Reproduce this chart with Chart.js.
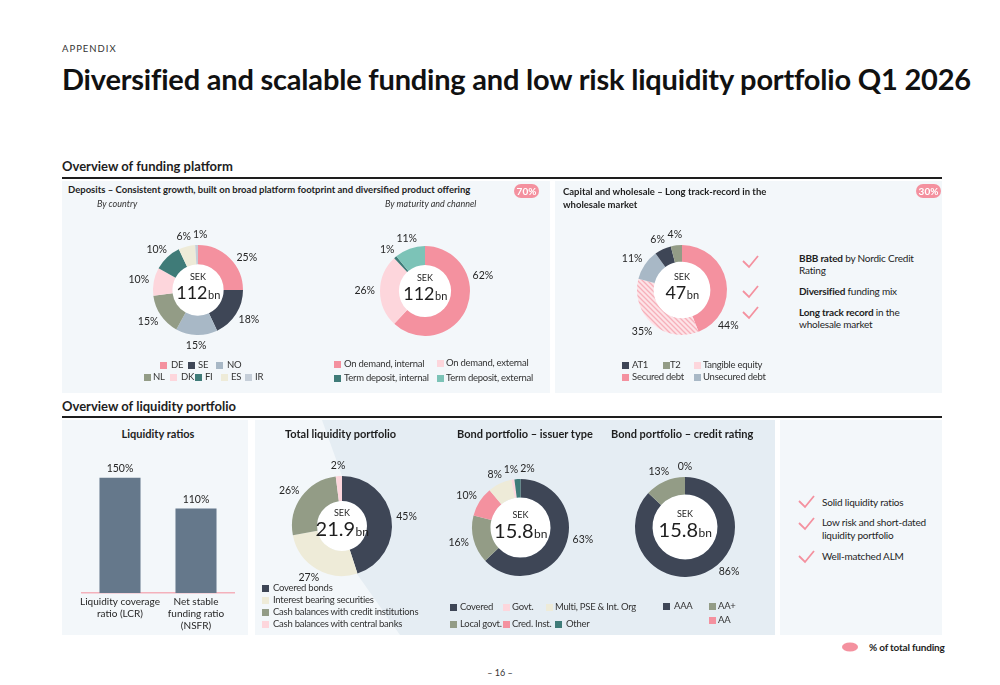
<!DOCTYPE html>
<html>
<head>
<meta charset="utf-8">
<script src="https://cdn.jsdelivr.net/npm/chart.js@4.4.1/dist/chart.umd.min.js"></script>
<style>
body { margin: 0; width: 1000px; height: 685px; background: #fff; font-family: Lato, 'Noto Sans', sans-serif; color: #1e1e1e; position: relative; overflow: hidden; }
.t { position: absolute; white-space: nowrap; }
canvas { position: absolute; }
.sq { position: absolute; width: 7px; height: 7px; }
svg { position: absolute; left: 0; top: 0; }
</style>
</head>
<body>
<svg width="1000" height="685" id="bg">
  <rect x="62" y="181" width="488" height="212" fill="#f3f7fa"/>
  <rect x="555" y="181" width="387" height="212" fill="#f3f7fa"/>
  <rect x="62" y="420" width="186" height="215" fill="#f3f7fa"/>
  <rect x="255" y="420" width="520" height="215" fill="#f3f7fa"/>
  <polygon points="322,420 775,420 775,635 400,635 357,574 342,476" fill="#e5edf3"/>
  <rect x="780" y="420" width="162" height="215" fill="#f3f7fa"/>
  <rect x="62" y="177" width="880" height="2" fill="#1e1e1e"/>
  <rect x="62" y="416" width="880" height="2" fill="#1e1e1e"/>
  <ellipse cx="850" cy="647" rx="8" ry="4.5" fill="#f4919f"/>
  <rect x="514" y="184" width="25" height="14" rx="7" fill="#f4919f"/>
  <rect x="916" y="184" width="25" height="14" rx="7" fill="#f4919f"/>
  <g fill="none" stroke="#f4919f" stroke-width="1.8">
    <polyline points="743,261 749,267 758,256"/>
    <polyline points="743,291 749,297 758,286"/>
    <polyline points="743,312 749,318 758,307"/>
    <polyline points="799,501 805,507 814,496"/>
    <polyline points="799,523 805,529 814,518"/>
    <polyline points="799,556 805,562 814,551"/>
  </g>
</svg>

<canvas id="c1"></canvas>
<canvas id="c2"></canvas>
<canvas id="c3"></canvas>
<canvas id="c4"></canvas>
<canvas id="c5"></canvas>
<canvas id="c6"></canvas>
<canvas id="bars" width="186" height="185" style="left:62px;top:450px"></canvas>

<script>
// values
var countryLabels = ['DE', 'SE', 'NO', 'NL', 'DK', 'FI', 'ES', 'IR'];
var countryValues = [25, 18, 15, 15, 10, 10, 6, 1];

var channelLabels = ['On demand, internal', 'On demand, external', 'Term deposit, internal', 'Term deposit, external'];
var channelValues = [62, 26, 1, 11];

var wholesaleLabels = ['Secured debt', 'Tangible equity', 'Unsecured debt', 'AT1', 'T2'];
var wholesaleValues = [44, 35, 11, 6, 4];

var liquidityLabels = ['Covered bonds', 'Interest bearing securities', 'Cash balances with credit institutions', 'Cash balances with central banks'];
var liquidityValues = [45, 27, 26, 2];

var issuerLabels = ['Covered', 'Local govt.', 'Cred. Inst.', 'Multi, PSE & Int. Org', 'Govt.', 'Other'];
var issuerValues = [63, 16, 10, 8, 1, 2];

var ratingLabels = ['AAA', 'AA+', 'AA'];
var ratingValues = [86, 13, 0];

var ratioLabels = [['Liquidity coverage', 'ratio (LCR)'], ['Net stable', 'funding ratio', '(NSFR)']];
var ratioValues = [150, 110];

var totals = ['112', '112', '47', '21.9', '15.8', '15.8'];

var PINK = '#f4919f', DARK = '#3e4656', LBLUE = '#a8b8c6', OLIVE = '#939c86',
    LPINK = '#fdd6dc', TEAL = '#3f7b78', CREAM = '#eeebd8', GRAY = '#c5ced8', LTEAL = '#7cc3b7';

function hatch() {
    var c = document.createElement('canvas');
    c.width = c.height = 5;
    var x = c.getContext('2d');
    x.fillStyle = '#fde3e7';
    x.fillRect(0, 0, 5, 5);
    x.strokeStyle = '#f6b0ba';
    x.lineWidth = 1.3;
    x.beginPath();
    x.moveTo(-1, -1); x.lineTo(6, 6);
    x.moveTo(-1, 4); x.lineTo(1, 6);
    x.moveTo(4, -1); x.lineTo(6, 1);
    x.stroke();
    return x.createPattern(c, 'repeat');
}

function txt(x, y, html, size, style) {
    var d = document.createElement('div');
    d.className = 't';
    d.innerHTML = html;
    d.style.left = x + 'px';
    d.style.top = (y - size * 0.65) + 'px';
    d.style.fontSize = size + 'px';
    d.style.lineHeight = (size * 1.3) + 'px';
    if (style) d.style.cssText += style;
    document.body.appendChild(d);
    return d;
}

function legendItem(sx, tx, y, label, color) {
    var s = document.createElement('div');
    s.className = 'sq';
    s.style.left = sx + 'px';
    s.style.top = (y - 3.5) + 'px';
    s.style.background = color;
    document.body.appendChild(s);
    txt(tx, y, label, 9.5, 'color:#333;letter-spacing:-0.25px');
}

var centerPlugin = {
    id: 'center',
    beforeDatasetsDraw: function(chart) {
        var a = chart.getDatasetMeta(0).data[0], ctx = chart.ctx;
        ctx.save();
        ctx.fillStyle = '#fff';
        ctx.beginPath();
        ctx.arc(a.x, a.y, a.innerRadius, 0, 2 * Math.PI);
        ctx.fill();
        ctx.restore();
    },
    afterDatasetsDraw: function(chart, args, opts) {
        var a = chart.getDatasetMeta(0).data[0], ctx = chart.ctx;
        var big = opts.big, small = Math.round(big * 0.6);
        ctx.save();
        ctx.fillStyle = '#1e1e1e';
        ctx.textAlign = 'center';
        ctx.textBaseline = 'alphabetic';
        ctx.font = '9px Lato';
        ctx.fillText('SEK', a.x, a.y - 10);
        ctx.font = big + 'px Lato';
        var w1 = ctx.measureText(opts.total).width;
        ctx.font = small + 'px Lato';
        var w2 = ctx.measureText('bn').width;
        var x0 = a.x - (w1 + w2) / 2, base = a.y + 3 + big * 0.36;
        ctx.textAlign = 'left';
        ctx.font = big + 'px Lato';
        ctx.fillText(opts.total, x0, base);
        ctx.font = small + 'px Lato';
        ctx.fillText('bn', x0 + w1 + 0.5, base);
        ctx.restore();
    }
};

// percentage labels just outside each slice
var outLabels = {
    id: 'outLabels',
    afterDatasetsDraw: function(chart, args, opts) {
        var ctx = chart.ctx, ds = chart.data.datasets[0], meta = chart.getDatasetMeta(0);
        var along = (opts && opts.along) || {};
        ctx.save();
        ctx.font = '10.5px Lato';
        ctx.fillStyle = '#262626';
        ctx.textAlign = 'center';
        ctx.textBaseline = 'middle';
        var prev = null;
        meta.data.forEach(function(arc, i) {
            var f = along[i] !== undefined ? along[i] : 0.5;
            var ang = arc.startAngle + (arc.endAngle - arc.startAngle) * f;
            var cos = Math.cos(ang), sin = Math.sin(ang);
            var label = ds.data[i] + '%';
            var w = ctx.measureText(label).width, h = 11;
            var r = arc.outerRadius + 5;
            var cx = arc.x + r * cos + cos * w / 2;
            var cy = arc.y + r * sin + sin * h / 2;
            var box = { l: cx - w / 2, r: cx + w / 2, t: cy - h / 2, b: cy + h / 2 };
            if (prev && box.l < prev.r && box.r > prev.l && box.t < prev.b && box.b > prev.t) {
                var dx = prev.r + 2 - box.l;
                cx += dx; box.l += dx; box.r += dx;
            }
            ctx.fillText(label, cx, cy);
            prev = box;
        });
        ctx.restore();
    }
};

function donut(id, cx, cy, r, cut, labels, values, colors, total, big, along) {
    var pad = 40;
    var c = document.getElementById(id);
    c.width = c.height = 2 * (r + pad);
    c.style.left = (cx - r - pad) + 'px';
    c.style.top = (cy - r - pad) + 'px';
    new Chart(c, {
        type: 'doughnut',
        data: {
            labels: labels,
            datasets: [{ data: values, backgroundColor: colors, borderWidth: 0 }]
        },
        options: {
            responsive: false,
            animation: false,
            cutout: cut + '%',
            layout: { padding: pad },
            plugins: {
                legend: { display: false },
                tooltip: { enabled: false },
                center: { total: total, big: big },
                outLabels: { along: along || {} }
            }
        },
        plugins: [centerPlugin, outLabels]
    });
}

var barLabels = {
    id: 'barLabels',
    afterDatasetsDraw: function(chart) {
        var ctx = chart.ctx, ds = chart.data.datasets[0];
        ctx.save();
        ctx.font = '10.5px Lato';
        ctx.fillStyle = '#262626';
        ctx.textAlign = 'center';
        ctx.textBaseline = 'middle';
        chart.getDatasetMeta(0).data.forEach(function(bar, i) {
            ctx.fillText(ds.data[i] + '%', bar.x, bar.y - 9);
        });
        ctx.restore();
    }
};

function init() {
    // headings
    txt(62, 49, 'APPENDIX', 9.5, 'letter-spacing:1px;color:#333');
    txt(62, 79, 'Diversified and scalable funding and low risk liquidity portfolio Q1 2026', 29, 'font-weight:700;color:#111;letter-spacing:-0.2px');
    txt(62, 166, 'Overview of funding platform', 13, 'font-weight:700');
    txt(62, 406, 'Overview of liquidity portfolio', 13, 'font-weight:700');

    txt(68, 190, 'Deposits – Consistent growth, built on broad platform footprint and diversified product offering', 9.5, 'font-weight:700');
    txt(97, 204, 'By country', 9, 'font-style:italic;color:#333');
    txt(385, 204, 'By maturity and channel', 9, 'font-style:italic;color:#333');
    txt(526.5, 191, '70%', 10, 'font-weight:700;color:#fff;transform:translateX(-50%)');
    txt(928.5, 191, '30%', 10, 'font-weight:700;color:#fff;transform:translateX(-50%)');
    txt(563, 192, 'Capital and wholesale – Long track-record in the', 9.5, 'font-weight:700');
    txt(563, 205, 'wholesale market', 9.5, 'font-weight:700');

    var side = 'letter-spacing:-0.2px';
    txt(799, 258, '<b>BBB rated</b> by Nordic Credit', 10, side);
    txt(799, 270, 'Rating', 10, side);
    txt(799, 291, '<b>Diversified</b> funding mix', 10, side);
    txt(799, 312, '<b>Long track record</b> in the', 10, side);
    txt(799, 324, 'wholesale market', 10, side);

    txt(158, 434, 'Liquidity ratios', 11, 'font-weight:700;transform:translateX(-50%)');
    txt(285, 434, 'Total liquidity portfolio', 11, 'font-weight:700');
    txt(457, 434, 'Bond portfolio – issuer type', 11, 'font-weight:700');
    txt(611, 434, 'Bond portfolio – credit rating', 11, 'font-weight:700');

    txt(822, 502, 'Solid liquidity ratios', 10, side);
    txt(822, 522, 'Low risk and short-dated', 10, side);
    txt(822, 535, 'liquidity portfolio', 10, side);
    txt(822, 556, 'Well-matched ALM', 10, side);

    txt(869, 647, '% of total funding', 10, 'font-weight:700;letter-spacing:-0.2px');
    txt(500, 673, '– 16 –', 9, 'transform:translateX(-50%);color:#333');

    var countryColors = [PINK, DARK, LBLUE, OLIVE, LPINK, TEAL, CREAM, GRAY];
    var channelColors = [PINK, LPINK, TEAL, LTEAL];
    var wholesaleColors = [PINK, hatch(), LBLUE, DARK, OLIVE];
    var liquidityColors = [DARK, CREAM, OLIVE, LPINK];
    var issuerColors = [DARK, OLIVE, PINK, CREAM, LPINK, TEAL];
    var ratingColors = [DARK, OLIVE, PINK];

    donut('c1', 198, 290, 45, 57, countryLabels, countryValues, countryColors, totals[0], 18, { 0: 0.6 });
    donut('c2', 425, 291, 45, 58, channelLabels, channelValues, channelColors, totals[1], 18, { 0: 0.33 });
    donut('c3', 682, 290, 45, 63, wholesaleLabels, wholesaleValues, wholesaleColors, totals[2], 18, { 0: 0.82 });
    donut('c4', 342, 526, 50, 50, liquidityLabels, liquidityValues, liquidityColors, totals[3], 20);
    donut('c5', 520, 527, 48.5, 62, issuerLabels, issuerValues, issuerColors, totals[4], 20, { 0: 0.45 });
    donut('c6', 685, 527, 50, 65, ratingLabels, ratingValues, ratingColors, totals[5], 20, { 0: 0.44 });

    // legends
    [[0, 160, 171, 365], [1, 188, 198, 365], [2, 216, 227, 365],
     [3, 144, 153, 377], [4, 170, 181, 377], [5, 195, 205, 377], [6, 221, 231, 377], [7, 245, 255, 377]
    ].forEach(function(p) { legendItem(p[1], p[2], p[3], countryLabels[p[0]], countryColors[p[0]]); });

    [[0, 334, 344, 364], [1, 437, 446, 363], [2, 334, 344, 378], [3, 437, 446, 378]
    ].forEach(function(p) { legendItem(p[1], p[2], p[3], channelLabels[p[0]], channelColors[p[0]]); });

    var wholesaleLegend = [PINK, LPINK, LBLUE, DARK, OLIVE];
    [[3, 622, 632, 365], [4, 663, 670, 365], [1, 694, 703, 365], [0, 622, 632, 377], [2, 694, 703, 377]
    ].forEach(function(p) { legendItem(p[1], p[2], p[3], wholesaleLabels[p[0]], wholesaleLegend[p[0]]); });

    [[0, 588], [1, 600], [2, 612], [3, 624]].forEach(function(p) {
        legendItem(262, 273, p[1], liquidityLabels[p[0]], liquidityColors[p[0]]);
    });

    [[0, 450, 460, 607], [4, 503, 512, 607], [3, 546, 555, 607],
     [1, 450, 460, 624], [2, 503, 512, 624], [5, 555, 566, 624]
    ].forEach(function(p) { legendItem(p[1], p[2], p[3], issuerLabels[p[0]], issuerColors[p[0]]); });

    [[0, 663, 674, 606], [1, 709, 718, 606], [2, 709, 718, 620]
    ].forEach(function(p) { legendItem(p[1], p[2], p[3], ratingLabels[p[0]], ratingColors[p[0]]); });

    new Chart(document.getElementById('bars'), {
        type: 'bar',
        data: {
            labels: ratioLabels,
            datasets: [{ data: ratioValues, backgroundColor: '#65788b', barPercentage: 0.54, categoryPercentage: 1 }]
        },
        options: {
            responsive: false,
            animation: false,
            layout: { padding: { left: 20, right: 14, top: 0, bottom: 0 } },
            plugins: { legend: { display: false }, tooltip: { enabled: false } },
            scales: {
                x: {
                    grid: { display: false, drawTicks: false },
                    border: { color: '#f4b1bb', width: 1.5 },
                    ticks: { color: '#262626', font: { family: 'Lato', size: 10, lineHeight: 1.2 }, padding: 3, maxRotation: 0, autoSkip: false }
                },
                y: { display: false, min: 0, max: 186 }
            }
        },
        plugins: [barLabels]
    });
}

Promise.all([document.fonts.load('11px Lato'), document.fonts.load('bold 11px Lato'), document.fonts.load('italic 11px Lato')])
    .then(init, init);
</script>
</body>
</html>
